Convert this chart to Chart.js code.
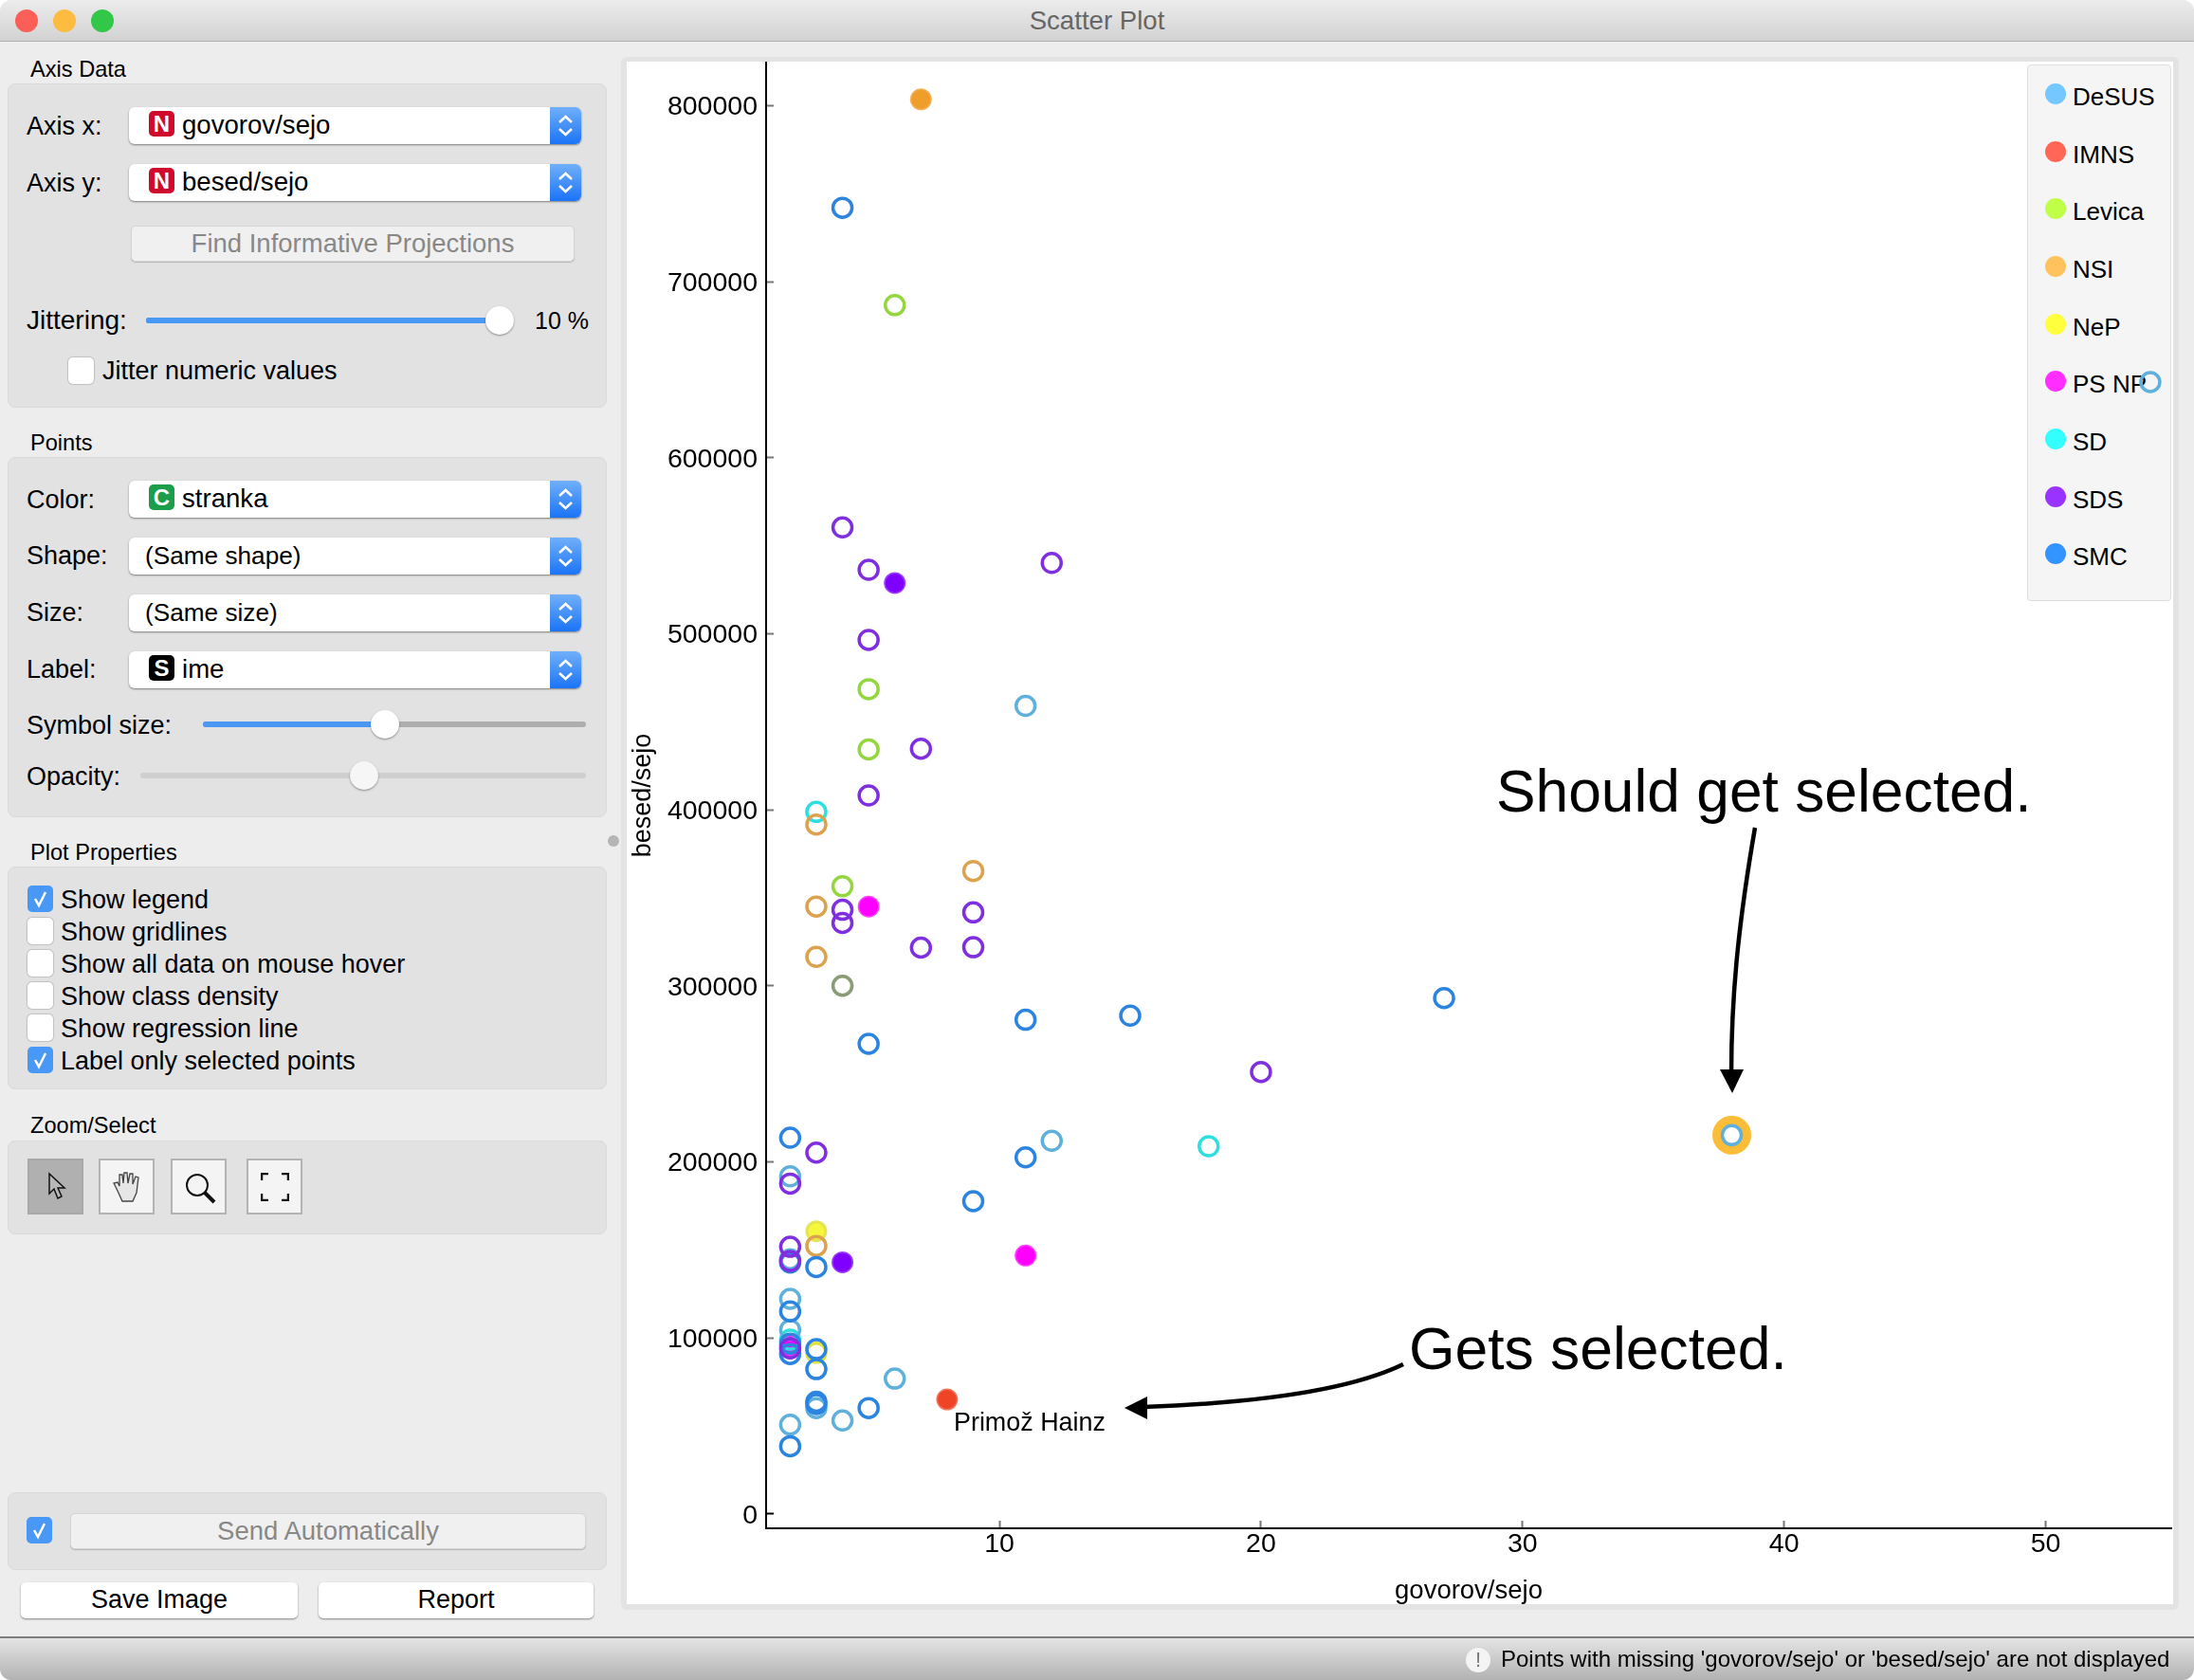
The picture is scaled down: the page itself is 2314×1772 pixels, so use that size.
<!DOCTYPE html>
<html>
<head>
<meta charset="utf-8">
<title>Scatter Plot</title>
<script src="https://cdn.jsdelivr.net/npm/chart.js@4"></script>
<style>
html,body{margin:0;padding:0;background:#fff;overflow:hidden}
body{width:2314px;height:1772px;font-family:"Liberation Sans",Arial,sans-serif;color:#000}
#win{position:absolute;left:0;top:0;width:2314px;height:1772px;background:#ededed;border-radius:12px;overflow:hidden}
#win div,#win svg,#win canvas{position:absolute}
.t{white-space:nowrap;font-size:27px;line-height:30px;height:30px}
.grp{background:#e2e2e2;border:1px solid #dadada;border-radius:8px;box-sizing:border-box}
.combo{background:#fff;border-radius:6px;box-shadow:0 1px 2px rgba(0,0,0,.45);height:39px;left:136px;width:477px}
.arrows{left:444px;top:0;width:33px;height:39px;background:linear-gradient(#70b0fa,#1b73f6);border-radius:0 6px 6px 0}
.icon{left:21px;top:4px;width:27px;height:27px;border-radius:5px;color:#fff;font-size:24px;font-weight:bold;line-height:27px;text-align:center}
.btn{box-sizing:border-box;border-radius:5px;text-align:center;font-size:27px}
.dis{background:#f0f0f0;border:1px solid #d6d6d6;color:#888;box-shadow:0 1px 1px rgba(0,0,0,.2);font-size:27.5px}
.act{background:#fff;box-shadow:0 1px 2px rgba(0,0,0,.45)}
.cb{width:27px;height:28px;border-radius:5px;background:#fff;box-shadow:0 0 1px 1px rgba(0,0,0,.15)}
.cb.on{background:#4a98f5;box-shadow:none}
.tool{box-sizing:border-box;width:59px;height:59px;background:#f4f4f4;border:2px solid #b3b3b3;top:1222px}
.track{height:6px;border-radius:3px}
.knob{width:30px;height:30px;border-radius:50%;background:#fff;box-shadow:0 1px 2px rgba(0,0,0,.4)}
.lgdot{left:18px;width:22px;height:22px;border-radius:50%}
</style>
</head>
<body>
<div id="win">
  <div style="left:0;top:0;width:2314px;height:43px;background:linear-gradient(#ececec,#d2d2d2);border-bottom:1px solid #b2b2b2"></div>
  <div style="left:16px;top:10px;width:24px;height:24px;border-radius:50%;background:#fc5f57"></div>
  <div style="left:56px;top:10px;width:24px;height:24px;border-radius:50%;background:#fdbc40"></div>
  <div style="left:96px;top:10px;width:24px;height:24px;border-radius:50%;background:#33c748"></div>
  <div class="t" style="left:0;width:2314px;top:7px;text-align:center;color:#666;font-size:27.6px">Scatter Plot</div>

  <div id="side"></div>

  <!-- plot frame -->
  <div style="left:655px;top:60px;width:1643px;height:1638px;background:#e3e3e3;border-radius:6px"></div>
  <div style="left:661px;top:65px;width:1631px;height:1627px;background:#fff"></div>
  <div id="legend" style="left:2138px;top:68px;width:152px;height:566px;box-sizing:border-box;background:#f5f5f5;border:1px solid #dedede;border-radius:4px"></div>
  <canvas id="plot" width="1631" height="1627" style="left:661px;top:65px;width:1631px;height:1627px"></canvas>

  <!-- annotations -->
  <div class="t" style="left:1006px;top:1485px;font-size:26.9px">Primož Hainz</div>
  <div class="t" style="left:1578px;top:800px;font-size:62.3px;line-height:70px;height:70px">Should get selected.</div>
  <div class="t" style="left:1486px;top:1388px;font-size:62.4px;line-height:70px;height:70px">Gets selected.</div>
  <svg style="left:0;top:0" width="2314" height="1772">
    <path d="M1851 873 C1836 960 1826 1040 1826 1132" fill="none" stroke="#000" stroke-width="4.5"/>
    <path d="M1814 1128 L1839 1128 L1827 1153 Z" fill="#000"/>
    <path d="M1480 1439 C1420 1468 1320 1480 1206 1484" fill="none" stroke="#000" stroke-width="4.5"/>
    <path d="M1210 1473 L1210 1497 L1186 1485 Z" fill="#000"/>
  </svg>

  <!-- status bar -->
  <div style="left:0;top:1726px;width:2314px;height:46px;background:linear-gradient(#e4e4e4,#b2b2b2);border-top:2px solid #7d7d7d;box-sizing:border-box"></div>
  <div style="left:1546px;top:1738px;width:26px;height:26px;border-radius:50%;background:#f4f4f4;color:#777;text-align:center;font-size:22px;line-height:26px">!</div>
  <div class="t" style="left:1583px;top:1735px;font-size:24px">Points with missing 'govorov/sejo' or 'besed/sejo' are not displayed</div>
</div>

<script>
// legend order and colours
const partyNames = ['DeSUS', 'IMNS', 'Levica', 'NSI', 'NeP', 'PS NP', 'SD', 'SDS', 'SMC'];
const legendColors = ['#75c8ff', '#ff6655', '#bfff48', '#ffc25c', '#ffff3d', '#ff2dff', '#33ffff', '#9933ff', '#3393ff'];

// tick labels
const xTicks = [10, 20, 30, 40, 50];
const yTicks = [0, 100000, 200000, 300000, 400000, 500000, 600000, 700000, 800000];

// hollow points: [govorov/sejo, besed/sejo]
const sdsPoints = [[4, 560400], [5, 536300], [12, 540200], [5, 496500], [7, 434660], [5, 408100], [4, 343160], [4, 335700],
    [9, 341700], [7, 321700], [9, 321900], [20, 251000], [3, 205200], [2, 187600], [2, 151700], [2, 143600], [2, 94000]];
const sdsOverlap = [[4, 300000]];
const smcPoints = [[4, 742000], [5, 267000], [11, 280700], [15, 283000], [27, 293000], [2, 213650], [11, 202500], [9, 177600],
    [2, 142700], [3, 140200], [2, 115000], [2, 96700], [2, 90800], [3, 93500], [3, 82200], [3, 63700], [3, 62300], [5, 60100], [2, 38400]];
const desusPoints = [[54, 643000], [11, 459000], [12, 211900], [2, 191700], [2, 144600], [2, 122100], [2, 104500], [6, 76800],
    [3, 60100], [2, 50600], [4, 53000], [38, 215100]];
const levicaPoints = [[6, 686700], [5, 468500], [5, 434250], [4, 356500], [4, 300000]];
const nsiPoints = [[3, 391600], [9, 365200], [3, 345000], [3, 316400], [3, 152200]];
const sdPoints = [[3, 398800], [18, 208800], [2, 98900]];
const nepPoints = [[3, 91500]];

// filled points
const sdsFilled = [[6, 528800], [4, 142900]];
const psnpFilled = [[5, 345000], [11, 146700], [2, 95500]];
const imnsFilled = [[8, 65000]];
const nsiFilled = [[7, 803600]];
const nepFilled = [[3, 160500]];

// the highlighted point
const selectedPoint = [[38, 215100]];

const toXY = (list) => list.map(([x, y]) => ({ x, y }));

function ring(label, data, color) {
    return { label, data: toXY(data), borderColor: color, backgroundColor: 'transparent', pointRadius: 10, borderWidth: 3.5 };
}
function filled(label, data, color, rim) {
    return { label, data: toXY(data), borderColor: rim, backgroundColor: color, pointRadius: 10, borderWidth: 3 };
}

// first dataset ends up on top
const datasets = [
    ring('SDS', sdsOverlap, 'rgba(127,47,223,.35)'),
    ring('SDS', sdsPoints, '#7f2fdf'),
    ring('SMC', smcPoints, '#2b85e0'),
    ring('DeSUS', desusPoints, '#5fb1dc'),
    ring('Levica', levicaPoints, '#93d63f'),
    ring('NSI', nsiPoints, '#dca24e'),
    ring('SD', sdPoints, '#2fdfe0'),
    filled('SDS', sdsFilled, '#7f00ff', 'rgba(127,0,255,.75)'),
    filled('PS NP', psnpFilled, '#ff00ff', 'rgba(255,0,255,.75)'),
    filled('IMNS', imnsFilled, '#ee4527', 'rgba(238,69,39,.75)'),
    filled('NSI', nsiFilled, '#ef9e2c', 'rgba(239,158,44,.8)'),
    ring('NeP', nepPoints, '#e2e23c'),
    filled('NeP', nepFilled, '#f6f63c', 'rgba(224,224,70,.85)'),
    { label: 'selected', data: toXY(selectedPoint), borderColor: '#fbbd38', backgroundColor: '#fff', pointRadius: 15, borderWidth: 11 }
];

const tickFont = { family: '"Liberation Sans"', size: 28.5 };

// fixed axis boxes, tick labels must not push the plot area inward
function fixBox(axis) {
    axis.paddingLeft = axis.paddingRight = axis.paddingTop = axis.paddingBottom = 0;
}

new Chart(document.getElementById('plot'), {
    type: 'scatter',
    data: { datasets },
    options: {
        responsive: false,
        devicePixelRatio: 1,
        animation: false,
        layout: { autoPadding: false, padding: { top: 1, right: 2, left: 0, bottom: 0 } },
        plugins: { legend: { display: false }, tooltip: { enabled: false } },
        scales: {
            x: {
                type: 'linear',
                min: 1.08,
                max: 54.8,
                afterBuildTicks: (axis) => { axis.ticks = xTicks.map((value) => ({ value })); },
                afterFit: (axis) => { axis.height = 80; fixBox(axis); },
                border: { color: '#000', width: 2 },
                grid: { drawOnChartArea: false, tickLength: -8, tickWidth: 2, tickColor: '#777' },
                ticks: { color: '#000', font: tickFont, padding: 8, maxRotation: 0, autoSkip: false },
                title: { display: true, text: 'govorov/sejo', color: '#000', font: { family: '"Liberation Sans"', size: 27.5 }, padding: { top: 0, bottom: -3 } }
            },
            y: {
                type: 'linear',
                min: -8240,
                max: 824500,
                afterBuildTicks: (axis) => { axis.ticks = yTicks.map((value) => ({ value })); },
                afterFit: (axis) => { axis.width = 147; fixBox(axis); },
                border: { color: '#000', width: 2 },
                grid: { drawOnChartArea: false, tickLength: -8, tickWidth: 2, tickColor: (c) => (c.tick && c.tick.value === 0 ? '#000' : '#777') },
                ticks: { color: '#000', font: tickFont, padding: 17, labelOffset: 2, autoSkip: false, callback: (v) => String(v) },
                title: { display: true, text: 'besed/sejo', color: '#000', font: { family: '"Liberation Sans"', size: 27 }, padding: { top: 1, bottom: 0 } }
            }
        }
    }
});

// legend panel sits under the canvas, one stray point is drawn over it
const legend = document.getElementById('legend');
partyNames.forEach((name, i) => {
    const top = 19 + i * 60.66;
    legend.insertAdjacentHTML('beforeend',
        `<div class="lgdot" style="top:${top}px;background:${legendColors[i]}"></div>` +
        `<div class="t" style="left:47px;top:${top - 1}px;font-size:26px">${name}</div>`);
});

// left control panel
const side = document.getElementById('side');
const add = (html) => side.insertAdjacentHTML('beforeend', html);
const text = (x, cy, s, extra = '') => add(`<div class="t" style="left:${x}px;top:${cy - 15}px;${extra}">${s}</div>`);
const group = (y0, y1) => add(`<div class="grp" style="left:8px;width:632px;top:${y0}px;height:${y1 - y0}px"></div>`);
const chevrons = '<svg style="left:7px;top:6px" width="19" height="27" fill="none" stroke="#fff" stroke-width="2.5">' +
    '<path d="M3 10 L9.5 4 L16 10"/><path d="M3 17 L9.5 23 L16 17"/></svg>';

function combo(y, iconChar, iconColor, s) {
    const icon = iconChar ? `<div class="icon" style="background:${iconColor}">${iconChar}</div>` : '';
    add(`<div class="combo" style="top:${y}px">${icon}` +
        `<div class="t" style="left:${iconChar ? 56 : 17}px;top:4px;font-size:${iconChar ? 27.6 : 26.2}px">${s}</div>` +
        `<div class="arrows">${chevrons}</div></div>`);
}
function checkbox(x, cy, on) {
    const tick = on ? '<svg style="left:0;top:0" width="27" height="28" fill="none" stroke="#fff" stroke-width="2.5"><path d="M8 14 L12 21 L19 7"/></svg>' : '';
    add(`<div class="cb${on ? ' on' : ''}" style="left:${x}px;top:${cy - 14}px">${tick}</div>`);
}
function slider(x0, x1, cy, knobX, fill, rest, knob = '#fff') {
    add(`<div class="track" style="left:${x0}px;width:${x1 - x0}px;top:${cy - 3}px;background:${rest}"></div>`);
    if (fill) add(`<div class="track" style="left:${x0}px;width:${knobX - x0}px;top:${cy - 3}px;background:${fill}"></div>`);
    add(`<div class="knob" style="left:${knobX - 15}px;top:${cy - 15}px;background:${knob}"></div>`);
}
function button(x0, x1, y0, y1, cls, s) {
    add(`<div class="btn ${cls}" style="left:${x0}px;width:${x1 - x0}px;top:${y0}px;height:${y1 - y0}px;line-height:${y1 - y0 - 2}px">${s}</div>`);
}

const heading = 'font-size:23.6px';
text(32, 73, 'Axis Data', heading);
group(88, 430);
text(28, 133, 'Axis x:');
combo(113, 'N', '#cf0a2c', 'govorov/sejo');
text(28, 193, 'Axis y:');
combo(173, 'N', '#cf0a2c', 'besed/sejo');
button(138, 606, 238, 276, 'dis', 'Find Informative Projections');
text(28, 338, 'Jittering:', 'font-size:28px');
slider(154, 527, 338, 527, '#4a98f5', '#4a98f5');
text(564, 338, '10 %', 'font-size:25px');
checkbox(72, 391, false);
text(108, 391, 'Jitter numeric values');

text(32, 467, 'Points', heading);
group(482, 862);
text(28, 527, 'Color:');
combo(507, 'C', '#1a9e4a', 'stranka');
text(28, 586, 'Shape:');
combo(567, '', '', '(Same shape)');
text(28, 646, 'Size:');
combo(627, '', '', '(Same size)');
text(28, 706, 'Label:');
combo(687, 'S', '#000', 'ime');
text(28, 765, 'Symbol size:');
slider(214, 618, 764, 406, '#4a98f5', '#aeaeae');
text(28, 819, 'Opacity:');
slider(148, 618, 818, 384, '', '#cfcfcf', '#f6f6f6');

add('<div style="left:641px;top:881px;width:12px;height:12px;border-radius:50%;background:#b5b5b5"></div>');

text(32, 899, 'Plot Properties', heading);
group(914, 1149);
const plotOptions = ['Show legend', 'Show gridlines', 'Show all data on mouse hover', 'Show class density', 'Show regression line', 'Label only selected points'];
const plotChecked = [true, false, false, false, false, true];
plotOptions.forEach((s, i) => {
    const cy = 948 + i * 34;
    checkbox(29, cy, plotChecked[i]);
    text(64, cy + 1, s);
});

text(32, 1187, 'Zoom/Select', heading);
group(1203, 1302);
add('<div class="tool" style="left:29px;background:#b0b0b0;border-color:#a8a8a8"><svg style="left:17px;top:11px" width="24" height="34"><path d="M4 3 L4 24 L9 19 L13 29 L17 27 L13 18 L20 18 Z" fill="#b8b8b8" stroke="#111" stroke-width="1.5"/></svg></div>');
add('<div class="tool" style="left:104px"><svg style="left:10px;top:10px" width="36" height="36"><path d="M8 22 L4 14 L8 13 L10 17 L10 5 L13 5 L14 14 L15 3 L18 3 L19 14 L21 4 L24 4 L24 15 L27 7 L30 8 L28 24 L24 33 L13 33 Z" fill="#e6e6e6" stroke="#444" stroke-width="1.3"/></svg></div>');
add('<div class="tool" style="left:180px"><svg style="left:12px;top:12px" width="36" height="36" fill="none" stroke="#111"><circle cx="14" cy="14" r="11" stroke-width="2"/><path d="M22 22 L32 32" stroke-width="4"/></svg></div>');
add('<div class="tool" style="left:260px"><svg style="left:13px;top:13px" width="30" height="30" fill="none" stroke="#111" stroke-width="2.5"><path d="M1 8 L1 1 L8 1 M22 1 L29 1 L29 8 M29 22 L29 29 L22 29 M8 29 L1 29 L1 22"/></svg></div>');

group(1574, 1656);
checkbox(28, 1614, true);
button(74, 618, 1596, 1634, 'dis', 'Send Automatically');
button(22, 314, 1669, 1707, 'act', 'Save Image');
button(336, 626, 1669, 1707, 'act', 'Report');
</script>
</body>
</html>
